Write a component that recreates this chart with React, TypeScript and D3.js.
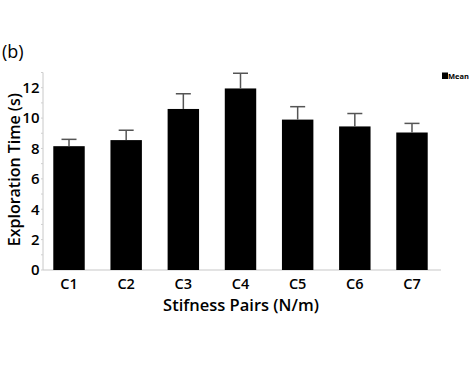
import React from "react";
import * as d3 from "d3";

const categories = ["C1", "C2", "C3", "C4", "C5", "C6", "C7"];
const means = [8.15, 8.55, 10.6, 11.95, 9.9, 9.45, 9.05];
const errorTops = [8.6, 9.2, 11.6, 12.95, 10.75, 10.3, 9.65];
const yTickLabels = [0, 2, 4, 6, 8, 10, 12];

const W = 474;
const H = 366;
const FONT = "'Open Sans', 'Noto Sans', sans-serif";

export default function App() {
  const x0 = 43;
  const xEnd = 441;
  const y = d3.scaleLinear().domain([0, 13]).range([270, 72.5]);
  const x = d3
    .scaleBand<string>()
    .domain(categories)
    .range([x0, 438])
    .paddingInner(0.45)
    .paddingOuter(0.18);
  const minor = d3.range(0, 14);
  const capW = 15;

  return (
    <svg
      width={W}
      height={H}
      style={{ position: "absolute", left: 0, top: 0, background: "#fff" }}
      fontFamily={FONT}
    >
      <text x={2} y={58} fontSize={18} fill="#000">
        (b)
      </text>
      {/* axes */}
      <line x1={x0} x2={x0} y1={y(13)} y2={y(0)} stroke="#c8c8c8" strokeWidth={1} />
      <line x1={x0} x2={xEnd} y1={y(0)} y2={y(0)} stroke="#c8c8c8" strokeWidth={1.2} />
      {minor.map((v) => (
        <line key={v} x1={x0 - 2} x2={x0} y1={y(v)} y2={y(v)} stroke="#d0d0d0" strokeWidth={1} />
      ))}
      {yTickLabels.map((v) => (
        <text
          key={v}
          x={39.5}
          y={y(v)}
          dy="0.36em"
          textAnchor="end"
          fontSize={15}
          fontWeight={600}
          fill="#000"
        >
          {v}
        </text>
      ))}
      {/* bars */}
      {categories.map((c, i) => (
        <rect
          key={c}
          x={x(c)}
          y={y(means[i])}
          width={x.bandwidth()}
          height={y(0) - y(means[i])}
          fill="#000"
        />
      ))}
      {/* error bars */}
      {categories.map((c, i) => {
        const cx = (x(c) as number) + x.bandwidth() / 2;
        return (
          <g key={c} stroke="#555" strokeWidth={1.5}>
            <line x1={cx} x2={cx} y1={y(means[i])} y2={y(errorTops[i])} />
            <line x1={cx - capW / 2} x2={cx + capW / 2} y1={y(errorTops[i])} y2={y(errorTops[i])} />
          </g>
        );
      })}
      {categories.map((c) => (
        <text
          key={c}
          x={(x(c) as number) + x.bandwidth() / 2}
          y={288.5}
          textAnchor="middle"
          fontSize={14.5}
          fontWeight={600}
          fill="#000"
        >
          {c}
        </text>
      ))}
      <text x={241} y={311} textAnchor="middle" fontSize={16.5} fontWeight={600} fill="#000">
        Stifness Pairs (N/m)
      </text>
      <text
        transform={`translate(20,${y(6.6)}) rotate(-90)`}
        textAnchor="middle"
        fontSize={16}
        fontWeight={600}
        fill="#000"
      >
        Exploration Time (s)
      </text>
      {/* legend */}
      <rect x={442} y={72.5} width={6} height={6.5} fill="#000" />
      <text x={448} y={79} fontSize={7.5} fontWeight="bold" fill="#000">
        Mean
      </text>
    </svg>
  );
}
